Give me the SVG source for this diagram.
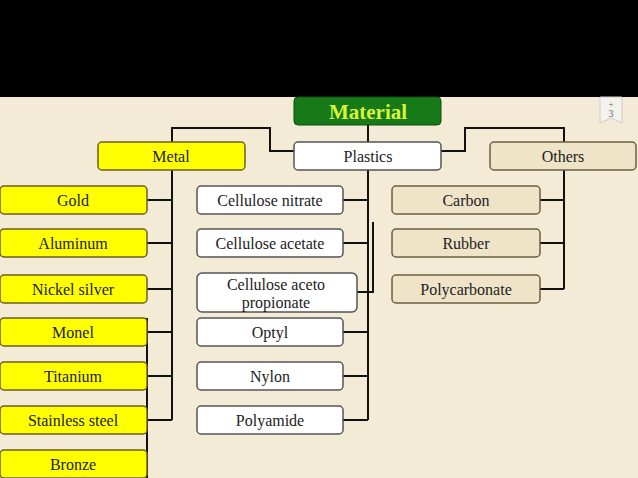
<svg xmlns="http://www.w3.org/2000/svg" width="638" height="478" viewBox="0 0 638 478">
<style>
text{font-family:"Liberation Serif","Times New Roman",serif;font-size:16px;fill:#222;text-anchor:middle;dominant-baseline:central}
.y{fill:#ffff00;stroke:#6b6020;stroke-width:1.5}
.w{fill:#ffffff;stroke:#555;stroke-width:1.5}
.b{fill:#efe4c8;stroke:#6b6040;stroke-width:1.5}
.c{stroke:#111;stroke-width:2;fill:none}
</style>
<rect width="638" height="478" fill="#f3ebd6"/>
<rect width="638" height="97" fill="#000"/>
<g id="bookmark"><path d="M600 97h22v26l-11-5-11 5z" fill="#f4f2ee" stroke="#ccc"/><text x="611" y="104" style="font-size:9px;fill:#666">+</text><text x="611" y="113" style="font-size:10px;fill:#666">3</text></g>
<g id="connectors" class="c">
<path d="M368 125V151M172 142V128H270V151H465V128H564V142"/>
<path d="M172 170V420M147 200H172M147 243H172M147 289H172M147 332H172M147 376H172M147 420H172M147 318V478"/>
<path d="M368 170V420M343 200H368M343 243H368M357 292H373V222M343 332H368M343 376H368M343 420H368"/>
<path d="M564 170V289M540 200H564M540 243H564M540 289H564"/>
</g>
<g id="material"><rect x="294" y="97" width="147" height="28" rx="4" fill="#157a17" stroke="#0c4f0c"/><text x="368" y="112" style="font-size:21px;font-weight:bold;fill:#d8f53a">Material</text></g>
<g id="metal"><rect class="y" x="98" y="142" width="147" height="28" rx="4"/><text x="171" y="156">Metal</text></g>
<g id="plastics"><rect class="w" x="294" y="142" width="147" height="28" rx="4"/><text x="368" y="156">Plastics</text></g>
<g id="others"><rect class="b" x="490" y="142" width="146" height="28" rx="4"/><text x="563" y="156">Others</text></g>
<g id="gold"><rect class="y" x="0" y="186" width="147" height="28" rx="4"/><text x="73" y="200">Gold</text></g>
<g id="aluminum"><rect class="y" x="0" y="229" width="147" height="28" rx="4"/><text x="73" y="243">Aluminum</text></g>
<g id="nickel"><rect class="y" x="0" y="275" width="147" height="28" rx="4"/><text x="73" y="289">Nickel silver</text></g>
<g id="monel"><rect class="y" x="0" y="318" width="147" height="28" rx="4"/><text x="73" y="332">Monel</text></g>
<g id="titanium"><rect class="y" x="0" y="362" width="147" height="28" rx="4"/><text x="73" y="376">Titanium</text></g>
<g id="stainless"><rect class="y" x="0" y="406" width="147" height="28" rx="4"/><text x="73" y="420">Stainless steel</text></g>
<g id="bronze"><rect class="y" x="0" y="450" width="147" height="28" rx="4"/><text x="73" y="464">Bronze</text></g>
<g id="cnitrate"><rect class="w" x="197" y="186" width="146" height="28" rx="4"/><text x="270" y="200">Cellulose nitrate</text></g>
<g id="cacetate"><rect class="w" x="197" y="229" width="146" height="28" rx="4"/><text x="270" y="243">Cellulose acetate</text></g>
<g id="cacetoprop"><rect class="w" x="197" y="273" width="160" height="39" rx="5"/><text x="276" y="284">Cellulose aceto</text><text x="276" y="302">propionate</text></g>
<g id="optyl"><rect class="w" x="197" y="318" width="146" height="28" rx="4"/><text x="270" y="332">Optyl</text></g>
<g id="nylon"><rect class="w" x="197" y="362" width="146" height="28" rx="4"/><text x="270" y="376">Nylon</text></g>
<g id="polyamide"><rect class="w" x="197" y="406" width="146" height="28" rx="4"/><text x="270" y="420">Polyamide</text></g>
<g id="carbon"><rect class="b" x="392" y="186" width="148" height="28" rx="4"/><text x="466" y="200">Carbon</text></g>
<g id="rubber"><rect class="b" x="392" y="229" width="148" height="28" rx="4"/><text x="466" y="243">Rubber</text></g>
<g id="polycarbonate"><rect class="b" x="392" y="275" width="148" height="28" rx="4"/><text x="466" y="289">Polycarbonate</text></g>
</svg>
